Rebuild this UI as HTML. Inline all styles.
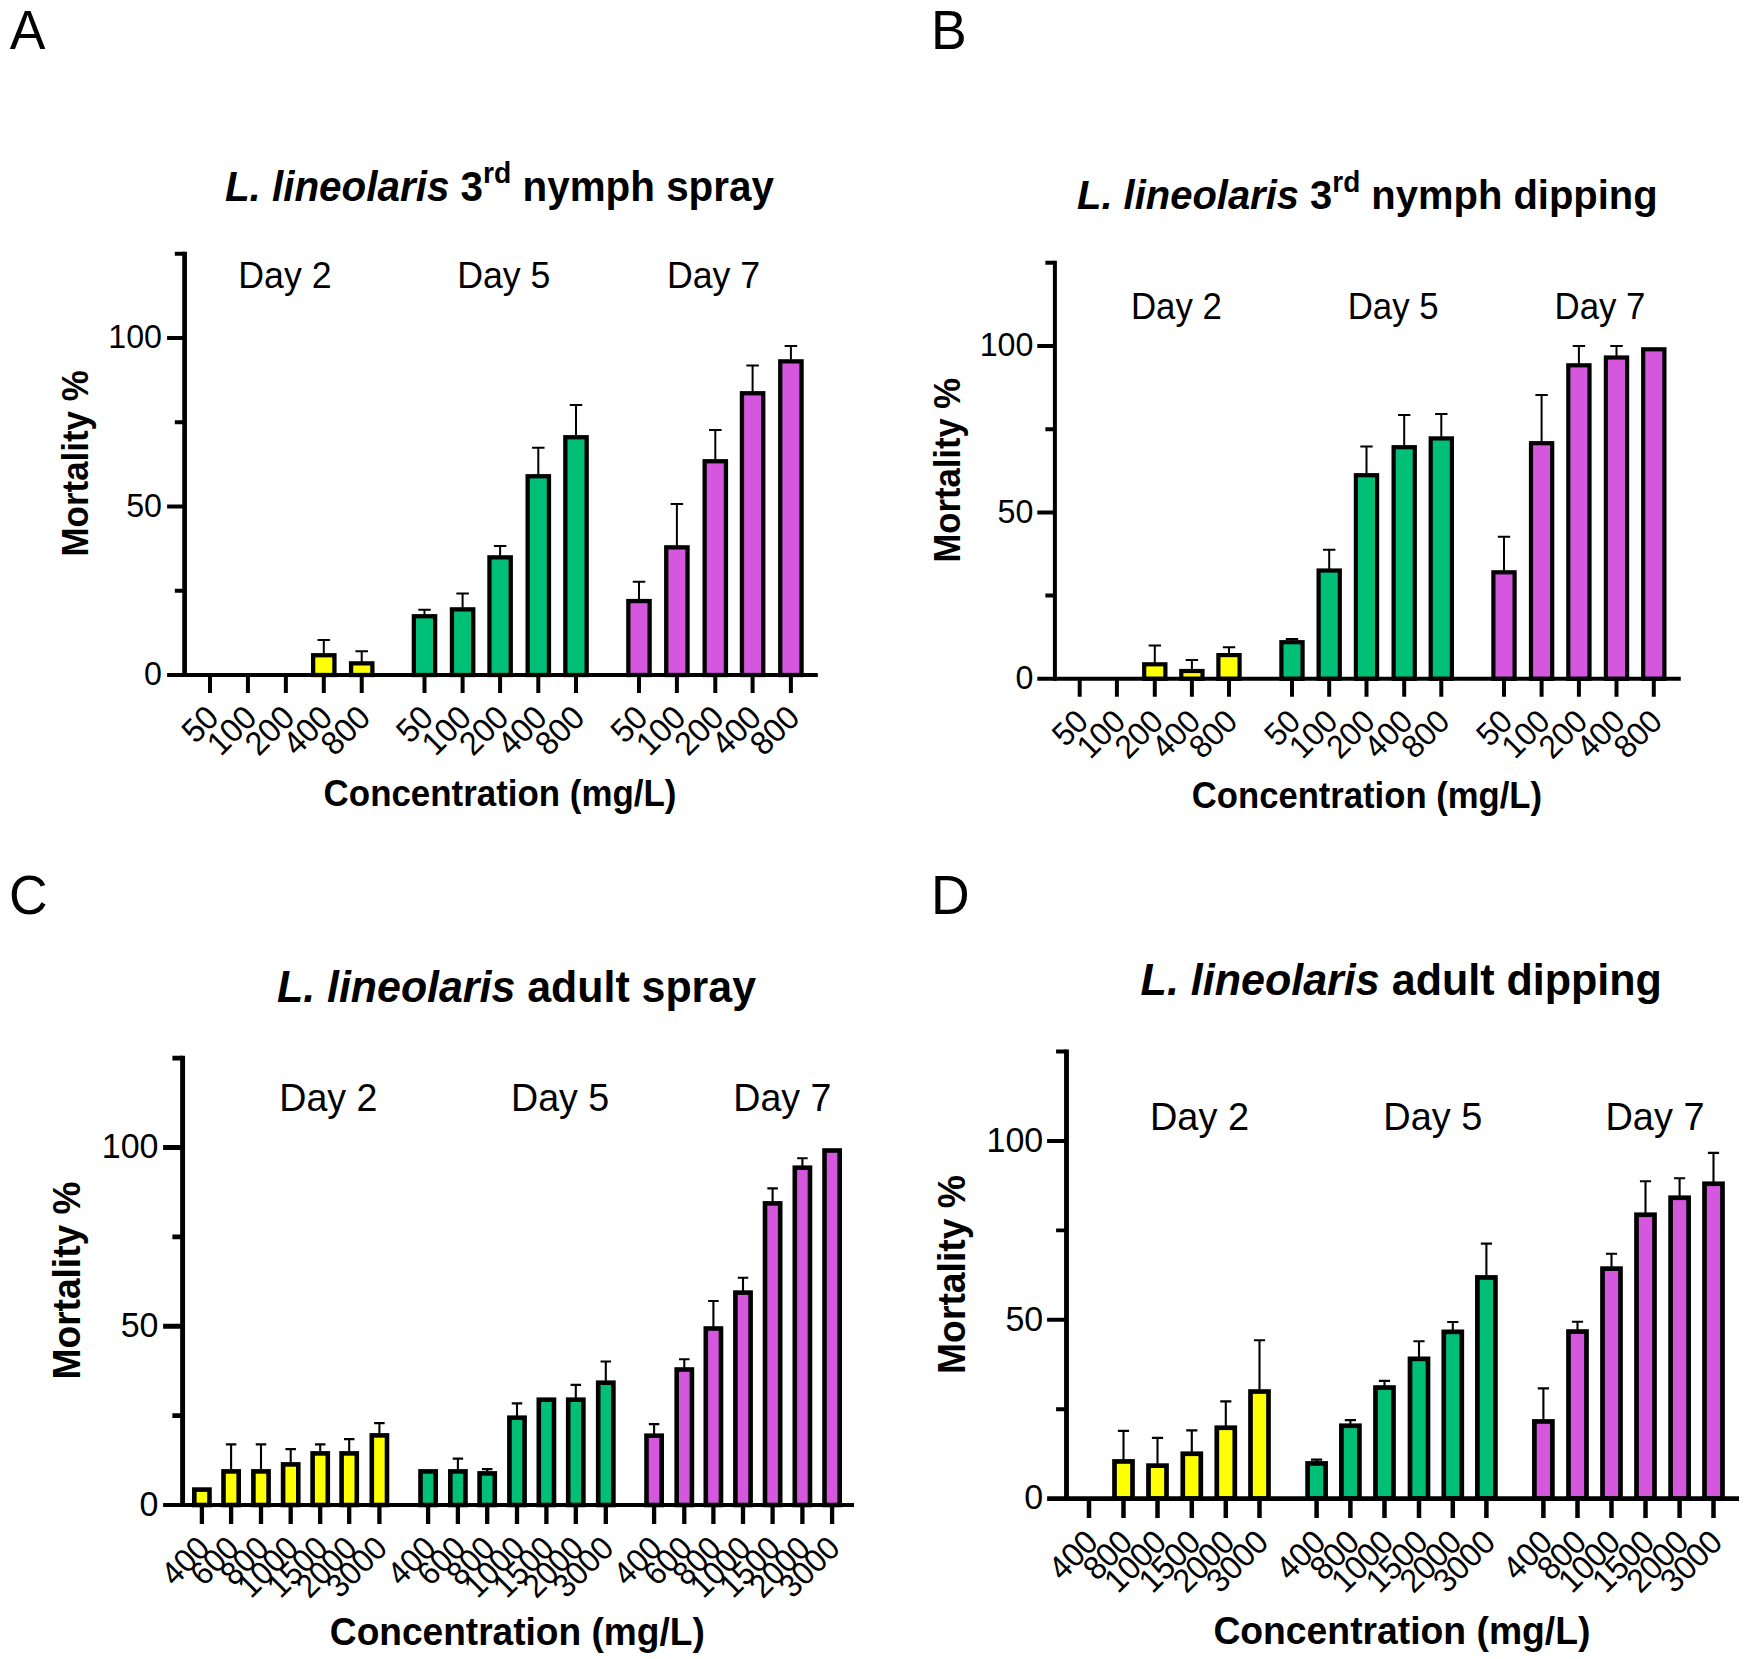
<!DOCTYPE html>
<html lang="en">
<head>
<meta charset="utf-8">
<title>L. lineolaris mortality</title>
<style>
html,body{margin:0;padding:0;background:#fff}
body{width:1746px;height:1659px;overflow:hidden}
svg{display:block}
svg text{font-family:"Liberation Sans", sans-serif;fill:#000}
</style>
</head>
<body>
<svg width="1746" height="1659" viewBox="0 0 1746 1659">
<rect width="1746" height="1659" fill="#fff"/>
<g>
<path d="M323.79 655.25V640.1M317.54 640.1H330.04" stroke="#000" stroke-width="2" fill="none"/>
<rect x="313.14" y="655.25" width="21.3" height="19.75" fill="#ffff00" stroke="#000" stroke-width="4.3"/>
<path d="M361.72 663.35V651.3M355.47 651.3H367.97" stroke="#000" stroke-width="2" fill="none"/>
<rect x="351.07" y="663.35" width="21.3" height="11.65" fill="#ffff00" stroke="#000" stroke-width="4.3"/>
<path d="M424.5 616.25V609.7M418.25 609.7H430.75" stroke="#000" stroke-width="2" fill="none"/>
<rect x="413.85" y="616.25" width="21.3" height="58.75" fill="#00bf77" stroke="#000" stroke-width="4.3"/>
<path d="M462.6 609.35V593.4M456.35 593.4H468.85" stroke="#000" stroke-width="2" fill="none"/>
<rect x="451.95" y="609.35" width="21.3" height="65.65" fill="#00bf77" stroke="#000" stroke-width="4.3"/>
<path d="M500.1 557.35V546M493.85 546H506.35" stroke="#000" stroke-width="2" fill="none"/>
<rect x="489.45" y="557.35" width="21.3" height="117.65" fill="#00bf77" stroke="#000" stroke-width="4.3"/>
<path d="M538.3 476.25V447.8M532.05 447.8H544.55" stroke="#000" stroke-width="2" fill="none"/>
<rect x="527.65" y="476.25" width="21.3" height="198.75" fill="#00bf77" stroke="#000" stroke-width="4.3"/>
<path d="M576 437.25V405.1M569.75 405.1H582.25" stroke="#000" stroke-width="2" fill="none"/>
<rect x="565.35" y="437.25" width="21.3" height="237.75" fill="#00bf77" stroke="#000" stroke-width="4.3"/>
<path d="M639 601.05V581.7M632.75 581.7H645.25" stroke="#000" stroke-width="2" fill="none"/>
<rect x="628.35" y="601.05" width="21.3" height="73.95" fill="#d457de" stroke="#000" stroke-width="4.3"/>
<path d="M676.9 547.35V504M670.65 504H683.15" stroke="#000" stroke-width="2" fill="none"/>
<rect x="666.25" y="547.35" width="21.3" height="127.65" fill="#d457de" stroke="#000" stroke-width="4.3"/>
<path d="M715.3 461.25V430.1M709.05 430.1H721.55" stroke="#000" stroke-width="2" fill="none"/>
<rect x="704.65" y="461.25" width="21.3" height="213.75" fill="#d457de" stroke="#000" stroke-width="4.3"/>
<path d="M752.6 393.25V365.4M746.35 365.4H758.85" stroke="#000" stroke-width="2" fill="none"/>
<rect x="741.95" y="393.25" width="21.3" height="281.75" fill="#d457de" stroke="#000" stroke-width="4.3"/>
<path d="M790.9 361.35V345.9M784.65 345.9H797.15" stroke="#000" stroke-width="2" fill="none"/>
<rect x="780.25" y="361.35" width="21.3" height="313.65" fill="#d457de" stroke="#000" stroke-width="4.3"/>
<path d="M184.6 251.75V677" stroke="#000" stroke-width="4.7" fill="none"/>
<path d="M167.1 675H817.8" stroke="#000" stroke-width="4" fill="none"/>
<path d="M167.1 506.5H184.6M167.1 338H184.6M174.8 590.75H184.6M174.8 422.25H184.6M174.8 253.75H184.6" stroke="#000" stroke-width="4" fill="none"/>
<path d="M210 675V693M247.93 675V693M285.86 675V693M323.79 675V693M361.72 675V693M424.5 675V693M462.6 675V693M500.1 675V693M538.3 675V693M576 675V693M639 675V693M676.9 675V693M715.3 675V693M752.6 675V693M790.9 675V693" stroke="#000" stroke-width="4" fill="none"/>
<text transform="translate(162 685.1) scale(1 1.04)" font-size="32.2" text-anchor="end">0</text>
<text transform="translate(162 516.6) scale(1 1.04)" font-size="32.2" text-anchor="end">50</text>
<text transform="translate(162 348.1) scale(1 1.04)" font-size="32.2" text-anchor="end">100</text>
<text transform="translate(220.6 719.6) rotate(-45) scale(1 1.04)" font-size="32" text-anchor="end">50</text>
<text transform="translate(258.53 719.6) rotate(-45) scale(1 1.04)" font-size="32" text-anchor="end">100</text>
<text transform="translate(296.46 719.6) rotate(-45) scale(1 1.04)" font-size="32" text-anchor="end">200</text>
<text transform="translate(334.39 719.6) rotate(-45) scale(1 1.04)" font-size="32" text-anchor="end">400</text>
<text transform="translate(372.32 719.6) rotate(-45) scale(1 1.04)" font-size="32" text-anchor="end">800</text>
<text transform="translate(435.1 719.6) rotate(-45) scale(1 1.04)" font-size="32" text-anchor="end">50</text>
<text transform="translate(473.2 719.6) rotate(-45) scale(1 1.04)" font-size="32" text-anchor="end">100</text>
<text transform="translate(510.7 719.6) rotate(-45) scale(1 1.04)" font-size="32" text-anchor="end">200</text>
<text transform="translate(548.9 719.6) rotate(-45) scale(1 1.04)" font-size="32" text-anchor="end">400</text>
<text transform="translate(586.6 719.6) rotate(-45) scale(1 1.04)" font-size="32" text-anchor="end">800</text>
<text transform="translate(649.6 719.6) rotate(-45) scale(1 1.04)" font-size="32" text-anchor="end">50</text>
<text transform="translate(687.5 719.6) rotate(-45) scale(1 1.04)" font-size="32" text-anchor="end">100</text>
<text transform="translate(725.9 719.6) rotate(-45) scale(1 1.04)" font-size="32" text-anchor="end">200</text>
<text transform="translate(763.2 719.6) rotate(-45) scale(1 1.04)" font-size="32" text-anchor="end">400</text>
<text transform="translate(801.5 719.6) rotate(-45) scale(1 1.04)" font-size="32" text-anchor="end">800</text>
<text transform="translate(238.3 287.8) scale(1 1.04)" font-size="35.7">Day 2</text>
<text transform="translate(457.2 287.8) scale(1 1.04)" font-size="35.7">Day 5</text>
<text transform="translate(666.9 287.8) scale(1 1.04)" font-size="35.7">Day 7</text>
<text transform="translate(500 805.6) scale(1 1.04)" font-size="34.9" font-weight="bold" text-anchor="middle">Concentration (mg/L)</text>
<text transform="translate(87.7 463.4) rotate(-90) scale(1 1.04)" font-size="34.9" font-weight="bold" text-anchor="middle">Mortality %</text>
<text transform="translate(224.9 200.6) scale(1 1.04)" font-size="40.4" font-weight="bold"><tspan font-style="italic">L. lineolaris</tspan> 3<tspan font-size="28.28" dy="-17.09">rd</tspan><tspan dy="17.09"> nymph spray</tspan></text>
<text transform="translate(9.7 48.9) scale(1 1.04)" font-size="53.5">A</text>
</g>
<g>
<path d="M1154.8 664.3V645.5M1148.6 645.5H1161" stroke="#000" stroke-width="2" fill="none"/>
<rect x="1144.2" y="664.3" width="21.2" height="14.5" fill="#ffff00" stroke="#000" stroke-width="4.2"/>
<path d="M1191.9 671V660.1M1185.7 660.1H1198.1" stroke="#000" stroke-width="2" fill="none"/>
<rect x="1181.3" y="671" width="21.2" height="7.8" fill="#ffff00" stroke="#000" stroke-width="4.2"/>
<path d="M1229 655.1V647.2M1222.8 647.2H1235.2" stroke="#000" stroke-width="2" fill="none"/>
<rect x="1218.4" y="655.1" width="21.2" height="23.7" fill="#ffff00" stroke="#000" stroke-width="4.2"/>
<path d="M1292 642.2V638.9M1285.8 638.9H1298.2" stroke="#000" stroke-width="2" fill="none"/>
<rect x="1281.4" y="642.2" width="21.2" height="36.6" fill="#00bf77" stroke="#000" stroke-width="4.2"/>
<path d="M1329.2 570.5V549.7M1323 549.7H1335.4" stroke="#000" stroke-width="2" fill="none"/>
<rect x="1318.6" y="570.5" width="21.2" height="108.3" fill="#00bf77" stroke="#000" stroke-width="4.2"/>
<path d="M1366.5 475.2V446.6M1360.3 446.6H1372.7" stroke="#000" stroke-width="2" fill="none"/>
<rect x="1355.9" y="475.2" width="21.2" height="203.6" fill="#00bf77" stroke="#000" stroke-width="4.2"/>
<path d="M1404.2 447.2V414.9M1398 414.9H1410.4" stroke="#000" stroke-width="2" fill="none"/>
<rect x="1393.6" y="447.2" width="21.2" height="231.6" fill="#00bf77" stroke="#000" stroke-width="4.2"/>
<path d="M1441.3 438.4V414.1M1435.1 414.1H1447.5" stroke="#000" stroke-width="2" fill="none"/>
<rect x="1430.7" y="438.4" width="21.2" height="240.4" fill="#00bf77" stroke="#000" stroke-width="4.2"/>
<path d="M1504 572.3V536.7M1497.8 536.7H1510.2" stroke="#000" stroke-width="2" fill="none"/>
<rect x="1493.4" y="572.3" width="21.2" height="106.5" fill="#d457de" stroke="#000" stroke-width="4.2"/>
<path d="M1541.6 443.2V394.9M1535.4 394.9H1547.8" stroke="#000" stroke-width="2" fill="none"/>
<rect x="1531" y="443.2" width="21.2" height="235.6" fill="#d457de" stroke="#000" stroke-width="4.2"/>
<path d="M1578.9 365.3V345.9M1572.7 345.9H1585.1" stroke="#000" stroke-width="2" fill="none"/>
<rect x="1568.3" y="365.3" width="21.2" height="313.5" fill="#d457de" stroke="#000" stroke-width="4.2"/>
<path d="M1616.5 357.5V345.9M1610.3 345.9H1622.7" stroke="#000" stroke-width="2" fill="none"/>
<rect x="1605.9" y="357.5" width="21.2" height="321.3" fill="#d457de" stroke="#000" stroke-width="4.2"/>
<rect x="1643.2" y="349.3" width="21.2" height="329.5" fill="#d457de" stroke="#000" stroke-width="4.2"/>
<path d="M1054.9 260.8V680.8" stroke="#000" stroke-width="4" fill="none"/>
<path d="M1037.3 678.8H1680.8" stroke="#000" stroke-width="4" fill="none"/>
<path d="M1037.3 512.4H1054.9M1037.3 346H1054.9M1045.4 595.6H1054.9M1045.4 429.2H1054.9M1045.4 262.8H1054.9" stroke="#000" stroke-width="4" fill="none"/>
<path d="M1079.7 678.8V696.7M1116.9 678.8V696.7M1154.8 678.8V696.7M1191.9 678.8V696.7M1229 678.8V696.7M1292 678.8V696.7M1329.2 678.8V696.7M1366.5 678.8V696.7M1404.2 678.8V696.7M1441.3 678.8V696.7M1504 678.8V696.7M1541.6 678.8V696.7M1578.9 678.8V696.7M1616.5 678.8V696.7M1653.8 678.8V696.7" stroke="#000" stroke-width="4" fill="none"/>
<text transform="translate(1033.4 689) scale(1 1.04)" font-size="32.2" text-anchor="end">0</text>
<text transform="translate(1033.4 522.6) scale(1 1.04)" font-size="32.2" text-anchor="end">50</text>
<text transform="translate(1033.4 356.2) scale(1 1.04)" font-size="32.2" text-anchor="end">100</text>
<text transform="translate(1090 723.4) rotate(-45) scale(1 1.04)" font-size="31.3" text-anchor="end">50</text>
<text transform="translate(1127.2 723.4) rotate(-45) scale(1 1.04)" font-size="31.3" text-anchor="end">100</text>
<text transform="translate(1165.1 723.4) rotate(-45) scale(1 1.04)" font-size="31.3" text-anchor="end">200</text>
<text transform="translate(1202.2 723.4) rotate(-45) scale(1 1.04)" font-size="31.3" text-anchor="end">400</text>
<text transform="translate(1239.3 723.4) rotate(-45) scale(1 1.04)" font-size="31.3" text-anchor="end">800</text>
<text transform="translate(1302.3 723.4) rotate(-45) scale(1 1.04)" font-size="31.3" text-anchor="end">50</text>
<text transform="translate(1339.5 723.4) rotate(-45) scale(1 1.04)" font-size="31.3" text-anchor="end">100</text>
<text transform="translate(1376.8 723.4) rotate(-45) scale(1 1.04)" font-size="31.3" text-anchor="end">200</text>
<text transform="translate(1414.5 723.4) rotate(-45) scale(1 1.04)" font-size="31.3" text-anchor="end">400</text>
<text transform="translate(1451.6 723.4) rotate(-45) scale(1 1.04)" font-size="31.3" text-anchor="end">800</text>
<text transform="translate(1514.3 723.4) rotate(-45) scale(1 1.04)" font-size="31.3" text-anchor="end">50</text>
<text transform="translate(1551.9 723.4) rotate(-45) scale(1 1.04)" font-size="31.3" text-anchor="end">100</text>
<text transform="translate(1589.2 723.4) rotate(-45) scale(1 1.04)" font-size="31.3" text-anchor="end">200</text>
<text transform="translate(1626.8 723.4) rotate(-45) scale(1 1.04)" font-size="31.3" text-anchor="end">400</text>
<text transform="translate(1664.1 723.4) rotate(-45) scale(1 1.04)" font-size="31.3" text-anchor="end">800</text>
<text transform="translate(1130.9 319.1) scale(1 1.04)" font-size="34.8">Day 2</text>
<text transform="translate(1347.7 319.1) scale(1 1.04)" font-size="34.8">Day 5</text>
<text transform="translate(1554.5 319.1) scale(1 1.04)" font-size="34.8">Day 7</text>
<text transform="translate(1366.9 808.2) scale(1 1.04)" font-size="34.65" font-weight="bold" text-anchor="middle">Concentration (mg/L)</text>
<text transform="translate(959.9 470.2) rotate(-90) scale(1 1.04)" font-size="34.65" font-weight="bold" text-anchor="middle">Mortality %</text>
<text transform="translate(1077 209.4) scale(1 1.04)" font-size="39.95" font-weight="bold"><tspan font-style="italic">L. lineolaris</tspan> 3<tspan font-size="27.96" dy="-16.9">rd</tspan><tspan dy="16.9"> nymph dipping</tspan></text>
<text transform="translate(931 48.9) scale(1 1.04)" font-size="53.5">B</text>
</g>
<g>
<rect x="194.3" y="1489.6" width="15.2" height="15.4" fill="#ffff00" stroke="#000" stroke-width="4.6"/>
<path d="M231.1 1471.4V1444.4M225.85 1444.4H236.35" stroke="#000" stroke-width="2.1" fill="none"/>
<rect x="223.5" y="1471.4" width="15.2" height="33.6" fill="#ffff00" stroke="#000" stroke-width="4.6"/>
<path d="M261 1471.4V1444.4M255.75 1444.4H266.25" stroke="#000" stroke-width="2.1" fill="none"/>
<rect x="253.4" y="1471.4" width="15.2" height="33.6" fill="#ffff00" stroke="#000" stroke-width="4.6"/>
<path d="M290.7 1464.4V1449.1M285.45 1449.1H295.95" stroke="#000" stroke-width="2.1" fill="none"/>
<rect x="283.1" y="1464.4" width="15.2" height="40.6" fill="#ffff00" stroke="#000" stroke-width="4.6"/>
<path d="M320.2 1453.4V1444.4M314.95 1444.4H325.45" stroke="#000" stroke-width="2.1" fill="none"/>
<rect x="312.6" y="1453.4" width="15.2" height="51.6" fill="#ffff00" stroke="#000" stroke-width="4.6"/>
<path d="M349.2 1453.4V1439.1M343.95 1439.1H354.45" stroke="#000" stroke-width="2.1" fill="none"/>
<rect x="341.6" y="1453.4" width="15.2" height="51.6" fill="#ffff00" stroke="#000" stroke-width="4.6"/>
<path d="M379.4 1435.4V1423.1M374.15 1423.1H384.65" stroke="#000" stroke-width="2.1" fill="none"/>
<rect x="371.8" y="1435.4" width="15.2" height="69.6" fill="#ffff00" stroke="#000" stroke-width="4.6"/>
<rect x="420.5" y="1471.4" width="15.2" height="33.6" fill="#00bf77" stroke="#000" stroke-width="4.6"/>
<path d="M457.9 1471.4V1458.6M452.65 1458.6H463.15" stroke="#000" stroke-width="2.1" fill="none"/>
<rect x="450.3" y="1471.4" width="15.2" height="33.6" fill="#00bf77" stroke="#000" stroke-width="4.6"/>
<path d="M487.2 1473.4V1469.1M481.95 1469.1H492.45" stroke="#000" stroke-width="2.1" fill="none"/>
<rect x="479.6" y="1473.4" width="15.2" height="31.6" fill="#00bf77" stroke="#000" stroke-width="4.6"/>
<path d="M517 1417.7V1403.4M511.75 1403.4H522.25" stroke="#000" stroke-width="2.1" fill="none"/>
<rect x="509.4" y="1417.7" width="15.2" height="87.3" fill="#00bf77" stroke="#000" stroke-width="4.6"/>
<rect x="538.8" y="1399.7" width="15.2" height="105.3" fill="#00bf77" stroke="#000" stroke-width="4.6"/>
<path d="M575.8 1399.7V1384.9M570.55 1384.9H581.05" stroke="#000" stroke-width="2.1" fill="none"/>
<rect x="568.2" y="1399.7" width="15.2" height="105.3" fill="#00bf77" stroke="#000" stroke-width="4.6"/>
<path d="M605.8 1382.7V1361.5M600.55 1361.5H611.05" stroke="#000" stroke-width="2.1" fill="none"/>
<rect x="598.2" y="1382.7" width="15.2" height="122.3" fill="#00bf77" stroke="#000" stroke-width="4.6"/>
<path d="M654.1 1435.7V1424.1M648.85 1424.1H659.35" stroke="#000" stroke-width="2.1" fill="none"/>
<rect x="646.5" y="1435.7" width="15.2" height="69.3" fill="#d457de" stroke="#000" stroke-width="4.6"/>
<path d="M684.3 1369.5V1359.2M679.05 1359.2H689.55" stroke="#000" stroke-width="2.1" fill="none"/>
<rect x="676.7" y="1369.5" width="15.2" height="135.5" fill="#d457de" stroke="#000" stroke-width="4.6"/>
<path d="M713.4 1328.5V1301M708.15 1301H718.65" stroke="#000" stroke-width="2.1" fill="none"/>
<rect x="705.8" y="1328.5" width="15.2" height="176.5" fill="#d457de" stroke="#000" stroke-width="4.6"/>
<path d="M743 1292.6V1277.8M737.75 1277.8H748.25" stroke="#000" stroke-width="2.1" fill="none"/>
<rect x="735.4" y="1292.6" width="15.2" height="212.4" fill="#d457de" stroke="#000" stroke-width="4.6"/>
<path d="M772.6 1203.4V1188.4M767.35 1188.4H777.85" stroke="#000" stroke-width="2.1" fill="none"/>
<rect x="765" y="1203.4" width="15.2" height="301.6" fill="#d457de" stroke="#000" stroke-width="4.6"/>
<path d="M802.4 1167.7V1158.2M797.15 1158.2H807.65" stroke="#000" stroke-width="2.1" fill="none"/>
<rect x="794.8" y="1167.7" width="15.2" height="337.3" fill="#d457de" stroke="#000" stroke-width="4.6"/>
<rect x="824.5" y="1150.5" width="15.2" height="354.5" fill="#d457de" stroke="#000" stroke-width="4.6"/>
<path d="M182.6 1055.72V1507" stroke="#000" stroke-width="4.9" fill="none"/>
<path d="M163.1 1505H854" stroke="#000" stroke-width="4" fill="none"/>
<path d="M163.1 1326.25H182.6M163.1 1147.5H182.6M172.4 1415.62H182.6M172.4 1236.88H182.6M172.4 1058.12H182.6" stroke="#000" stroke-width="4.8" fill="none"/>
<path d="M201.9 1505V1523.9M231.1 1505V1523.9M261 1505V1523.9M290.7 1505V1523.9M320.2 1505V1523.9M349.2 1505V1523.9M379.4 1505V1523.9M428.1 1505V1523.9M457.9 1505V1523.9M487.2 1505V1523.9M517 1505V1523.9M546.4 1505V1523.9M575.8 1505V1523.9M605.8 1505V1523.9M654.1 1505V1523.9M684.3 1505V1523.9M713.4 1505V1523.9M743 1505V1523.9M772.6 1505V1523.9M802.4 1505V1523.9M832.1 1505V1523.9" stroke="#000" stroke-width="4.3" fill="none"/>
<text transform="translate(158.5 1515.9) scale(1 1.04)" font-size="34" text-anchor="end">0</text>
<text transform="translate(158.5 1337.15) scale(1 1.04)" font-size="34" text-anchor="end">50</text>
<text transform="translate(158.5 1158.4) scale(1 1.04)" font-size="34" text-anchor="end">100</text>
<text transform="translate(211.65 1550.1) rotate(-45) scale(1 1.04)" font-size="31.4" text-anchor="end">400</text>
<text transform="translate(240.85 1550.1) rotate(-45) scale(1 1.04)" font-size="31.4" text-anchor="end">600</text>
<text transform="translate(270.75 1550.1) rotate(-45) scale(1 1.04)" font-size="31.4" text-anchor="end">800</text>
<text transform="translate(300.45 1550.1) rotate(-45) scale(1 1.04)" font-size="31.4" text-anchor="end">1000</text>
<text transform="translate(329.95 1550.1) rotate(-45) scale(1 1.04)" font-size="31.4" text-anchor="end">1500</text>
<text transform="translate(358.95 1550.1) rotate(-45) scale(1 1.04)" font-size="31.4" text-anchor="end">2000</text>
<text transform="translate(389.15 1550.1) rotate(-45) scale(1 1.04)" font-size="31.4" text-anchor="end">3000</text>
<text transform="translate(437.85 1550.1) rotate(-45) scale(1 1.04)" font-size="31.4" text-anchor="end">400</text>
<text transform="translate(467.65 1550.1) rotate(-45) scale(1 1.04)" font-size="31.4" text-anchor="end">600</text>
<text transform="translate(496.95 1550.1) rotate(-45) scale(1 1.04)" font-size="31.4" text-anchor="end">800</text>
<text transform="translate(526.75 1550.1) rotate(-45) scale(1 1.04)" font-size="31.4" text-anchor="end">1000</text>
<text transform="translate(556.15 1550.1) rotate(-45) scale(1 1.04)" font-size="31.4" text-anchor="end">1500</text>
<text transform="translate(585.55 1550.1) rotate(-45) scale(1 1.04)" font-size="31.4" text-anchor="end">2000</text>
<text transform="translate(615.55 1550.1) rotate(-45) scale(1 1.04)" font-size="31.4" text-anchor="end">3000</text>
<text transform="translate(663.85 1550.1) rotate(-45) scale(1 1.04)" font-size="31.4" text-anchor="end">400</text>
<text transform="translate(694.05 1550.1) rotate(-45) scale(1 1.04)" font-size="31.4" text-anchor="end">600</text>
<text transform="translate(723.15 1550.1) rotate(-45) scale(1 1.04)" font-size="31.4" text-anchor="end">800</text>
<text transform="translate(752.75 1550.1) rotate(-45) scale(1 1.04)" font-size="31.4" text-anchor="end">1000</text>
<text transform="translate(782.35 1550.1) rotate(-45) scale(1 1.04)" font-size="31.4" text-anchor="end">1500</text>
<text transform="translate(812.15 1550.1) rotate(-45) scale(1 1.04)" font-size="31.4" text-anchor="end">2000</text>
<text transform="translate(841.85 1550.1) rotate(-45) scale(1 1.04)" font-size="31.4" text-anchor="end">3000</text>
<text transform="translate(279.3 1111.2) scale(1 1.04)" font-size="37.6">Day 2</text>
<text transform="translate(511 1111.2) scale(1 1.04)" font-size="37.6">Day 5</text>
<text transform="translate(733.3 1111.2) scale(1 1.04)" font-size="37.6">Day 7</text>
<text transform="translate(517.3 1645.3) scale(1 1.04)" font-size="37.1" font-weight="bold" text-anchor="middle">Concentration (mg/L)</text>
<text transform="translate(79.9 1280.5) rotate(-90) scale(1 1.04)" font-size="37.1" font-weight="bold" text-anchor="middle">Mortality %</text>
<text transform="translate(277 1001.9) scale(1 1.04)" font-size="42.9" font-weight="bold"><tspan font-style="italic">L. lineolaris</tspan> adult spray</text>
<text transform="translate(9 914) scale(1 1.04)" font-size="53.5">C</text>
</g>
<g>
<path d="M1123.5 1461.45V1430.9M1117.9 1430.9H1129.1" stroke="#000" stroke-width="2.1" fill="none"/>
<rect x="1114.5" y="1461.45" width="18" height="37.15" fill="#ffff00" stroke="#000" stroke-width="4.7"/>
<path d="M1157.5 1465.65V1437.9M1151.9 1437.9H1163.1" stroke="#000" stroke-width="2.1" fill="none"/>
<rect x="1148.5" y="1465.65" width="18" height="32.95" fill="#ffff00" stroke="#000" stroke-width="4.7"/>
<path d="M1191.8 1453.75V1430.4M1186.2 1430.4H1197.4" stroke="#000" stroke-width="2.1" fill="none"/>
<rect x="1182.8" y="1453.75" width="18" height="44.85" fill="#ffff00" stroke="#000" stroke-width="4.7"/>
<path d="M1225.8 1427.75V1401.4M1220.2 1401.4H1231.4" stroke="#000" stroke-width="2.1" fill="none"/>
<rect x="1216.8" y="1427.75" width="18" height="70.85" fill="#ffff00" stroke="#000" stroke-width="4.7"/>
<path d="M1259.5 1391.55V1340.2M1253.9 1340.2H1265.1" stroke="#000" stroke-width="2.1" fill="none"/>
<rect x="1250.5" y="1391.55" width="18" height="107.05" fill="#ffff00" stroke="#000" stroke-width="4.7"/>
<path d="M1316.6 1463.45V1459.6M1311 1459.6H1322.2" stroke="#000" stroke-width="2.1" fill="none"/>
<rect x="1307.6" y="1463.45" width="18" height="35.15" fill="#00bf77" stroke="#000" stroke-width="4.7"/>
<path d="M1350.4 1425.75V1420.1M1344.8 1420.1H1356" stroke="#000" stroke-width="2.1" fill="none"/>
<rect x="1341.4" y="1425.75" width="18" height="72.85" fill="#00bf77" stroke="#000" stroke-width="4.7"/>
<path d="M1384.5 1387.55V1380.9M1378.9 1380.9H1390.1" stroke="#000" stroke-width="2.1" fill="none"/>
<rect x="1375.5" y="1387.55" width="18" height="111.05" fill="#00bf77" stroke="#000" stroke-width="4.7"/>
<path d="M1419 1358.85V1341.2M1413.4 1341.2H1424.6" stroke="#000" stroke-width="2.1" fill="none"/>
<rect x="1410" y="1358.85" width="18" height="139.75" fill="#00bf77" stroke="#000" stroke-width="4.7"/>
<path d="M1452.8 1331.85V1322M1447.2 1322H1458.4" stroke="#000" stroke-width="2.1" fill="none"/>
<rect x="1443.8" y="1331.85" width="18" height="166.75" fill="#00bf77" stroke="#000" stroke-width="4.7"/>
<path d="M1486.4 1277.45V1243.6M1480.8 1243.6H1492" stroke="#000" stroke-width="2.1" fill="none"/>
<rect x="1477.4" y="1277.45" width="18" height="221.15" fill="#00bf77" stroke="#000" stroke-width="4.7"/>
<path d="M1543.4 1421.45V1388.4M1537.8 1388.4H1549" stroke="#000" stroke-width="2.1" fill="none"/>
<rect x="1534.4" y="1421.45" width="18" height="77.15" fill="#d457de" stroke="#000" stroke-width="4.7"/>
<path d="M1577.5 1331.55V1321.8M1571.9 1321.8H1583.1" stroke="#000" stroke-width="2.1" fill="none"/>
<rect x="1568.5" y="1331.55" width="18" height="167.05" fill="#d457de" stroke="#000" stroke-width="4.7"/>
<path d="M1611.5 1268.65V1253.8M1605.9 1253.8H1617.1" stroke="#000" stroke-width="2.1" fill="none"/>
<rect x="1602.5" y="1268.65" width="18" height="229.95" fill="#d457de" stroke="#000" stroke-width="4.7"/>
<path d="M1645.5 1214.75V1181.2M1639.9 1181.2H1651.1" stroke="#000" stroke-width="2.1" fill="none"/>
<rect x="1636.5" y="1214.75" width="18" height="283.85" fill="#d457de" stroke="#000" stroke-width="4.7"/>
<path d="M1679.6 1197.75V1178.2M1674 1178.2H1685.2" stroke="#000" stroke-width="2.1" fill="none"/>
<rect x="1670.6" y="1197.75" width="18" height="300.85" fill="#d457de" stroke="#000" stroke-width="4.7"/>
<path d="M1713.5 1183.75V1152.9M1707.9 1152.9H1719.1" stroke="#000" stroke-width="2.1" fill="none"/>
<rect x="1704.5" y="1183.75" width="18" height="314.85" fill="#d457de" stroke="#000" stroke-width="4.7"/>
<path d="M1066.5 1049.59V1500.95" stroke="#000" stroke-width="4.85" fill="none"/>
<path d="M1047.1 1498.6H1739" stroke="#000" stroke-width="4.7" fill="none"/>
<path d="M1047.1 1319.77H1066.5M1047.1 1140.95H1066.5M1056.1 1409.19H1066.5M1056.1 1230.36H1066.5M1056.1 1051.54H1066.5" stroke="#000" stroke-width="3.9" fill="none"/>
<path d="M1089 1498.6V1518M1123.5 1498.6V1518M1157.5 1498.6V1518M1191.8 1498.6V1518M1225.8 1498.6V1518M1259.5 1498.6V1518M1316.6 1498.6V1518M1350.4 1498.6V1518M1384.5 1498.6V1518M1419 1498.6V1518M1452.8 1498.6V1518M1486.4 1498.6V1518M1543.4 1498.6V1518M1577.5 1498.6V1518M1611.5 1498.6V1518M1645.5 1498.6V1518M1679.6 1498.6V1518M1713.5 1498.6V1518" stroke="#000" stroke-width="4.5" fill="none"/>
<text transform="translate(1043.2 1509.45) scale(1 1.04)" font-size="34" text-anchor="end">0</text>
<text transform="translate(1043.2 1330.62) scale(1 1.04)" font-size="34" text-anchor="end">50</text>
<text transform="translate(1043.2 1151.8) scale(1 1.04)" font-size="34" text-anchor="end">100</text>
<text transform="translate(1099.9 1544.2) rotate(-45) scale(1 1.04)" font-size="32" text-anchor="end">400</text>
<text transform="translate(1134.4 1544.2) rotate(-45) scale(1 1.04)" font-size="32" text-anchor="end">800</text>
<text transform="translate(1168.4 1544.2) rotate(-45) scale(1 1.04)" font-size="32" text-anchor="end">1000</text>
<text transform="translate(1202.7 1544.2) rotate(-45) scale(1 1.04)" font-size="32" text-anchor="end">1500</text>
<text transform="translate(1236.7 1544.2) rotate(-45) scale(1 1.04)" font-size="32" text-anchor="end">2000</text>
<text transform="translate(1270.4 1544.2) rotate(-45) scale(1 1.04)" font-size="32" text-anchor="end">3000</text>
<text transform="translate(1327.5 1544.2) rotate(-45) scale(1 1.04)" font-size="32" text-anchor="end">400</text>
<text transform="translate(1361.3 1544.2) rotate(-45) scale(1 1.04)" font-size="32" text-anchor="end">800</text>
<text transform="translate(1395.4 1544.2) rotate(-45) scale(1 1.04)" font-size="32" text-anchor="end">1000</text>
<text transform="translate(1429.9 1544.2) rotate(-45) scale(1 1.04)" font-size="32" text-anchor="end">1500</text>
<text transform="translate(1463.7 1544.2) rotate(-45) scale(1 1.04)" font-size="32" text-anchor="end">2000</text>
<text transform="translate(1497.3 1544.2) rotate(-45) scale(1 1.04)" font-size="32" text-anchor="end">3000</text>
<text transform="translate(1554.3 1544.2) rotate(-45) scale(1 1.04)" font-size="32" text-anchor="end">400</text>
<text transform="translate(1588.4 1544.2) rotate(-45) scale(1 1.04)" font-size="32" text-anchor="end">800</text>
<text transform="translate(1622.4 1544.2) rotate(-45) scale(1 1.04)" font-size="32" text-anchor="end">1000</text>
<text transform="translate(1656.4 1544.2) rotate(-45) scale(1 1.04)" font-size="32" text-anchor="end">1500</text>
<text transform="translate(1690.5 1544.2) rotate(-45) scale(1 1.04)" font-size="32" text-anchor="end">2000</text>
<text transform="translate(1724.4 1544.2) rotate(-45) scale(1 1.04)" font-size="32" text-anchor="end">3000</text>
<text transform="translate(1150 1129.8) scale(1 1.04)" font-size="37.9">Day 2</text>
<text transform="translate(1383.3 1129.8) scale(1 1.04)" font-size="37.9">Day 5</text>
<text transform="translate(1605.5 1129.8) scale(1 1.04)" font-size="37.9">Day 7</text>
<text transform="translate(1401.9 1644.4) scale(1 1.04)" font-size="37.3" font-weight="bold" text-anchor="middle">Concentration (mg/L)</text>
<text transform="translate(964.6 1274.5) rotate(-90) scale(1 1.04)" font-size="37.3" font-weight="bold" text-anchor="middle">Mortality %</text>
<text transform="translate(1140.6 994.9) scale(1 1.04)" font-size="43.05" font-weight="bold"><tspan font-style="italic">L. lineolaris</tspan> adult dipping</text>
<text transform="translate(931 914) scale(1 1.04)" font-size="53.5">D</text>
</g>
</svg>
</body>
</html>
